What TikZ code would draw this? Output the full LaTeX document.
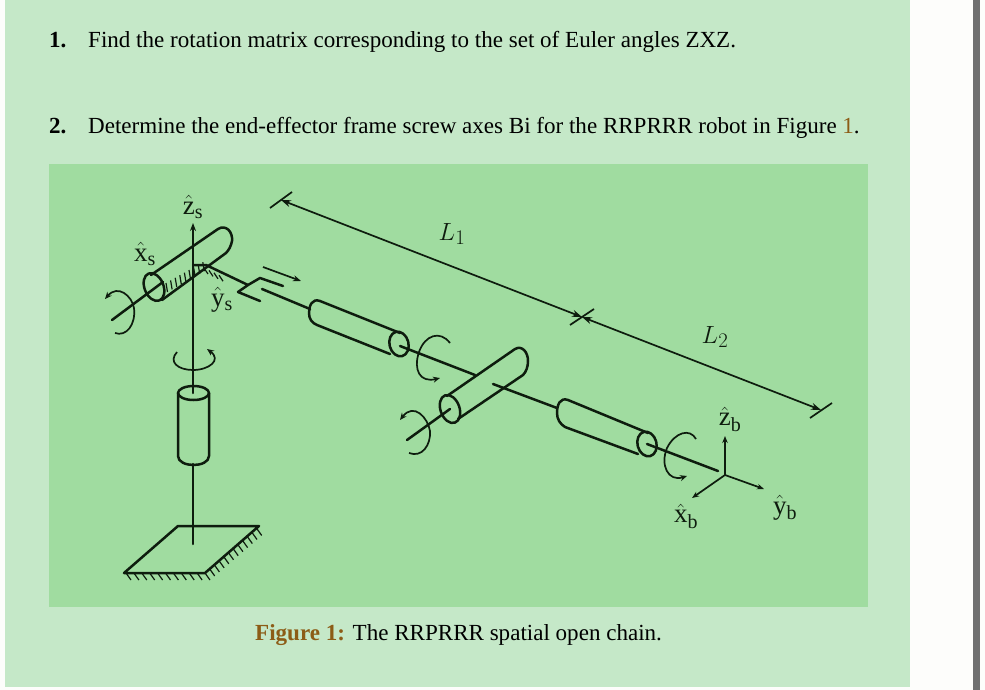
\documentclass[tikz,border=0pt]{standalone}
\usepackage{fontspec}
\setmainfont{Liberation Serif}
\usetikzlibrary{arrows.meta}
\DeclareMathSizes{27}{27}{20}{15}
\definecolor{pagebg}{RGB}{253,253,251}
\definecolor{lightg}{RGB}{197,232,200}
\definecolor{darkg}{RGB}{160,220,160}
\definecolor{barc}{RGB}{112,112,112}
\definecolor{ink}{RGB}{14,28,14}
\definecolor{linkc}{RGB}{140,92,22}
\tikzset{
  x=1pt,y=-1pt,
  body/.style={draw=ink,line width=2.5pt,line join=round,line cap=round},
  thin axis/.style={draw=ink,line width=1.7pt},
  rot/.style={draw=ink,line width=1.7pt,-{Stealth[length=7pt,width=6pt]}},
  hatch/.style={draw=ink,line width=1.2pt},
  para/.style={anchor=base west,inner sep=0pt,text=black,font=\fontsize{23.05}{26}\selectfont},
  lab/.style={inner sep=0pt,text=ink,font=\fontsize{27}{32}\selectfont},
}
\begin{document}
\begin{tikzpicture}
\useasboundingbox (0,0) rectangle (985,690);
\fill[pagebg] (0,0) rectangle (985,690);
\fill[lightg] (5,0) rectangle (910,687);
\fill[darkg] (49,164) rectangle (868,607);
\fill[barc] (973,0) rectangle (980,690);

\node[para] (t1) at (49,48) {\textbf{1.}};
\node[para] (t1b) at (88,48) {Find the rotation matrix corresponding to the set of Euler angles ZXZ.};
\node[para] (t2) at (49,134) {\textbf{2.}};
\node[para] (t2b) at (88,134) {Determine the end-effector frame screw axes Bi for the RRPRRR robot in Figure \textcolor{linkc}{1}.};
\node[para] (cap) at (255,640) {\textcolor{linkc}{\textbf{Figure 1:}} The RRPRRR spatial open chain.};

% base and vertical axis
\draw[body] (124,573) -- (178,526) -- (259,526) -- (205,573) -- cycle;
\foreach \i in {0,...,9} \draw[hatch] ({126+\i*7.9},573) -- ++(5,7);
\foreach \i in {0,...,11} \draw[hatch] ({205+\i*4.7},{573-\i*4.05}) -- ++(5,7);
\draw[body] (193,464) -- (193,544);
\draw[body] (193,300) -- (193,393);
\draw[thin axis,-{Stealth[length=8pt,width=6pt]}] (193,300) -- (193,223);
% vertical cylinder
\draw[body] (178,393) arc[start angle=180,end angle=-180,x radius=15.5,y radius=-7];
\draw[body] (178,393) -- (178,456) .. controls (178,462) and (186,465) .. (193.5,465) .. controls (201,465) and (209,462) .. (209,456) -- (209,393);
\draw[rot] (177,352) .. controls (168,362) and (178,370) .. (193,370) .. controls (209,370) and (222,360) .. (207,349);

% first joint
\draw[body] (112,320) -- (163,282);
\draw[body,rotate around={22:(154,287)}] (154,287) ellipse[x radius=9.5,y radius=14.5];
\draw[body] (151,275) -- (218,229) .. controls (226,224) and (233,232) .. (232,241) .. controls (231,246) and (229,250) .. (226,253) -- (162,300);
\foreach \i in {0,...,8} \draw[hatch] ({166+\i*4.6},{283-\i*2.6}) -- ++(1.5,9);
\foreach \i in {0,...,3} \draw[hatch] ({204+\i*5},{268+\i*2.4}) -- ++(4,6);
\draw[rot] (115,333) .. controls (126,337) and (136,325) .. (134,308) .. controls (132,296) and (118,284) .. (105,299);

% prismatic
\draw[body] (193,265) -- (206,265) -- (248,285);
\draw[body] (238,292) -- (260,301);
\draw[body] (238,292) -- (248,285) -- (260,278) -- (283,286);
\draw[body] (262,289) -- (310,309);
\draw[thin axis,-{Stealth[length=8pt,width=6pt]}] (263,267) -- (301,281);

% second link
\draw[body] (320,301) .. controls (312,298) and (309,306) .. (309,313) .. controls (309,319) and (312,323) .. (317,325) -- (390,354);
\draw[body] (320,301) -- (400,333);
\draw[body,rotate around={15:(399,344)}] (399,344) ellipse[x radius=9.5,y radius=12.5];
\draw[body] (400,346) -- (475,375);
\draw[rot] (450,343) .. controls (440,330) and (425,335) .. (419,352) .. controls (413,370) and (420,383) .. (440,378);

% third cylinder
\draw[body] (447,396) -- (515,349) .. controls (522,345) and (528,352) .. (528,361) .. controls (528,367) and (526,372) .. (523,375) -- (458,419);
\draw[body,rotate around={20:(450,409)}] (450,409) ellipse[x radius=9.5,y radius=14.5];
\draw[body] (407,440) -- (450,409);
\draw[body] (493,384) -- (557,408);
\draw[rot] (409,453) .. controls (422,458) and (431,445) .. (430,431) .. controls (428,418) and (414,402) .. (400,420);

% fourth cylinder
\draw[body] (568,400) .. controls (560,397) and (557,405) .. (557,413) .. controls (557,419) and (560,424) .. (565,427) -- (638,454);
\draw[body] (568,400) -- (648,433);
\draw[body,rotate around={15:(647,444)}] (647,444) ellipse[x radius=9.5,y radius=12.5];
\draw[body] (647,444) -- (718,471);
\draw[rot] (696,439) .. controls (690,428) and (675,432) .. (667,448) .. controls (660,465) and (668,482) .. (687,476);

% body frame
\coordinate (o) at (725,475);
\coordinate (zb) at (725,436);
\coordinate (xb) at (692,498);
\coordinate (yb) at (764,489);
\draw[thin axis,-{Stealth[length=7pt,width=5.5pt]}] (o) -- (zb);
\draw[thin axis,-{Stealth[length=7pt,width=5.5pt]}] (o) -- (xb);
\draw[thin axis,-{Stealth[length=7pt,width=5.5pt]}] (o) -- (yb);

% dimensions
\coordinate (d0) at (281,200);
\coordinate (d1) at (582,317);
\coordinate (d2) at (821,410);
\draw[thin axis] (270,208) -- (292,192);
\draw[thin axis] (570,325) -- (594,309);
\draw[thin axis] (810,418) -- (832,403);
\draw[thin axis,{Stealth[length=10pt,width=7pt]}-{Stealth[length=10pt,width=7pt]}] (d0) -- (d1);
\draw[thin axis,{Stealth[length=10pt,width=7pt]}-{Stealth[length=10pt,width=7pt]}] (d1) -- (d2);

\node[lab] (l1) at (452,234) {$L_1$};
\node[lab] (l2) at (715,337) {$L_2$};
\node[lab] (zs) at (193,207) {$\hat{\mathrm{z}}_{\mathrm{s}}$};
\node[lab] (xs) at (145,254) {$\hat{\mathrm{x}}_{\mathrm{s}}$};
\node[lab] (ys) at (222,300) {$\hat{\mathrm{y}}_{\mathrm{s}}$};
\node[lab] (zbl) at (730,419) {$\hat{\mathrm{z}}_{\mathrm{b}}$};
\node[lab] (xbl) at (686,516) {$\hat{\mathrm{x}}_{\mathrm{b}}$};
\node[lab] (ybl) at (785,508) {$\hat{\mathrm{y}}_{\mathrm{b}}$};
\end{tikzpicture}
\end{document}
